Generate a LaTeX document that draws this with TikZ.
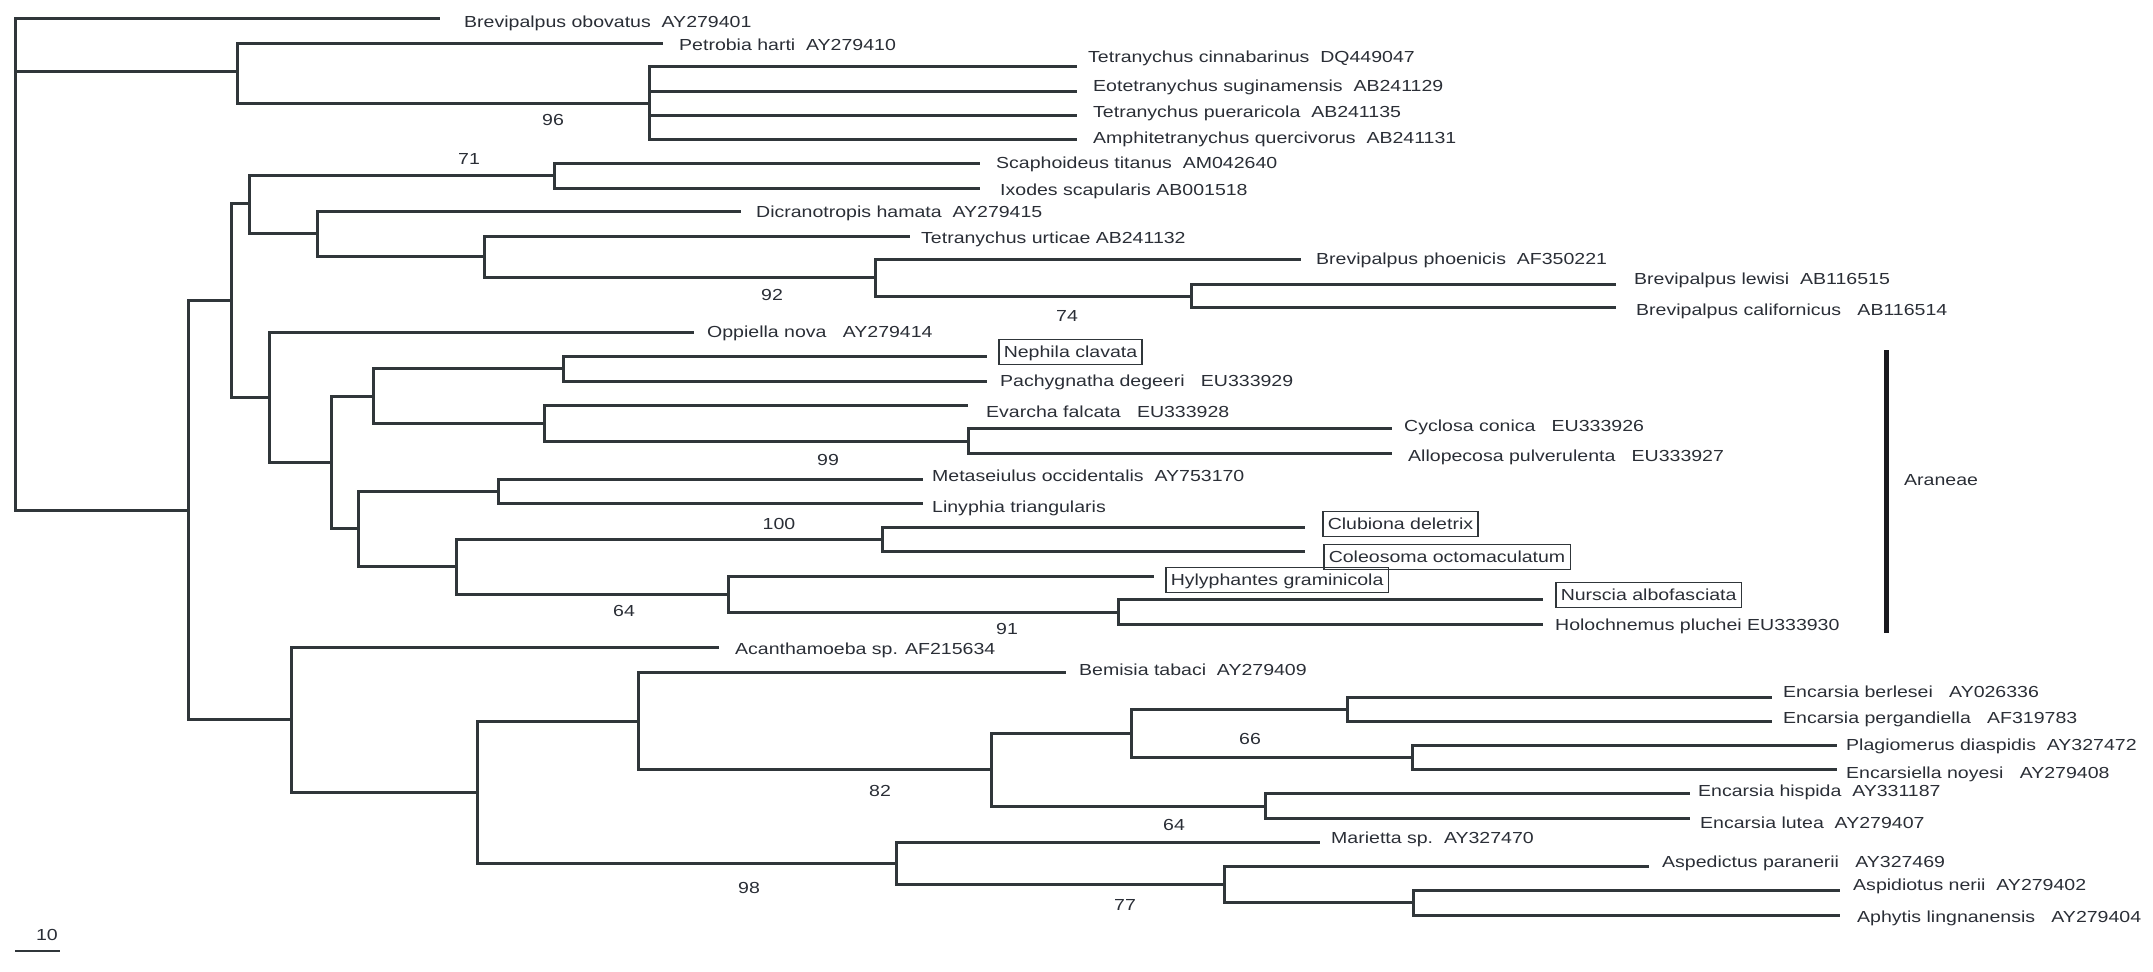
\documentclass[tikz,border=0pt]{standalone}
\usepackage{fontspec}
\setmainfont[FakeStretch=1.22]{Liberation Sans}
\definecolor{brc}{RGB}{48,54,58}
\definecolor{barc}{RGB}{25,25,30}
\definecolor{txc}{RGB}{42,46,54}
\newcommand\lf[6]{\coordinate (#1) at (#2,#3); \node[lab] (#1-t) at (#4,#5) {#6};}
\newcommand\lfb[6]{\coordinate (#1) at (#2,#3); \node[lab,boxed] (#1-t) at (#4,#5) {#6};}
\begin{document}
\begin{tikzpicture}[x=1pt,y=-1pt,
  br/.style={draw=brc,line width=3pt},
  lab/.style={anchor=west,inner xsep=0pt,inner ysep=0pt,text height=11.5pt,text depth=0pt,text=txc,font=\fontsize{16}{18}\selectfont},
  boxed/.style={draw=brc,line width=1.5pt,inner xsep=5pt,inner ysep=6.75pt},
  sup/.style={anchor=center,inner sep=0pt,text height=11.5pt,text depth=0pt,text=txc,font=\fontsize{16}{18}\selectfont}]
\useasboundingbox (0,0) rectangle (2153,972);
% internal nodes
\coordinate (root) at (15,71);
\coordinate (nPet) at (237,71);
\coordinate (nTet) at (649,103);
\coordinate (G) at (188,510);
\coordinate (H) at (231,300);
\coordinate (A) at (249,203);
\coordinate (B) at (554,175);
\coordinate (C) at (317,233);
\coordinate (D) at (484,256);
\coordinate (E) at (875,277);
\coordinate (F) at (1191,296);
\coordinate (I) at (269,397);
\coordinate (J) at (331,462);
\coordinate (K) at (373,396);
\coordinate (L) at (563,368);
\coordinate (M) at (544,423);
\coordinate (N) at (968,441);
\coordinate (O) at (358,528);
\coordinate (P) at (498,491);
\coordinate (Q) at (456,566);
\coordinate (R) at (882,539);
\coordinate (S) at (728,594);
\coordinate (T) at (1118,612);
\coordinate (U) at (291,719);
\coordinate (V) at (477,792);
\coordinate (W) at (638,721);
\coordinate (X) at (991,769);
\coordinate (Y) at (1131,733);
\coordinate (Z) at (1347,709);
\coordinate (AA) at (1412,757);
\coordinate (AB) at (1265,806);
\coordinate (AC) at (896,863);
\coordinate (AD) at (1224,884);
\coordinate (AE) at (1413,902);
% leaves
\lf{bobo}{440}{18}{464}{22}{Brevipalpus obovatus\ \ AY279401}
\lf{phar}{663}{43}{679}{45}{Petrobia harti\ \ AY279410}
\lf{tcin}{1077}{66}{1088}{57}{Tetranychus cinnabarinus\ \ DQ449047}
\lf{esug}{1077}{91}{1093}{86}{Eotetranychus suginamensis\ \ AB241129}
\lf{tpue}{1077}{115}{1093}{112}{Tetranychus pueraricola\ \ AB241135}
\lf{aque}{1077}{139}{1093}{138}{Amphitetranychus quercivorus\ \ AB241131}
\lf{stit}{980}{163}{996}{163}{Scaphoideus titanus\ \ AM042640}
\lf{isca}{980}{188}{1000}{190}{Ixodes scapularis AB001518}
\lf{dham}{741}{211}{756}{212}{Dicranotropis hamata\ \ AY279415}
\lf{turt}{910}{236}{921}{238}{Tetranychus urticae AB241132}
\lf{bpho}{1301}{259}{1316}{259}{Brevipalpus phoenicis\ \ AF350221}
\lf{blew}{1616}{284}{1634}{279}{Brevipalpus lewisi\ \ AB116515}
\lf{bcal}{1616}{307}{1636}{310}{Brevipalpus californicus\ \ \ AB116514}
\lf{onov}{694}{332}{707}{332}{Oppiella nova\ \ \ AY279414}
\lfb{ncla}{987}{356}{998}{352}{Nephila clavata}
\lf{pdeg}{987}{381}{1000}{381}{Pachygnatha degeeri\ \ \ EU333929}
\lf{efal}{968}{405}{986}{412}{Evarcha falcata\ \ \ EU333928}
\lf{ccon}{1392}{428}{1404}{426}{Cyclosa conica\ \ \ EU333926}
\lf{apul}{1392}{453}{1408}{456}{Allopecosa pulverulenta\ \ \ EU333927}
\lf{mocc}{923}{479}{932}{476}{Metaseiulus occidentalis\ \ AY753170}
\lf{ltri}{923}{503}{932}{507}{Linyphia triangularis}
\lfb{cdel}{1305}{527}{1322}{524}{Clubiona deletrix}
\lfb{coct}{1305}{551}{1323}{557}{Coleosoma octomaculatum}
\lfb{hgra}{1154}{576}{1165}{580}{Hylyphantes graminicola}
\lfb{nalb}{1543}{599}{1555}{595}{Nurscia albofasciata}
\lf{hplu}{1543}{624}{1555}{625}{Holochnemus pluchei EU333930}
\lf{acan}{719}{647}{735}{649}{Acanthamoeba sp. AF215634}
\lf{btab}{1066}{672}{1079}{670}{Bemisia tabaci\ \ AY279409}
\lf{eber}{1772}{697}{1783}{692}{Encarsia berlesei\ \ \ AY026336}
\lf{eper}{1772}{721}{1783}{718}{Encarsia pergandiella\ \ \ AF319783}
\lf{pdia}{1837}{745}{1846}{745}{Plagiomerus diaspidis\ \ AY327472}
\lf{enoy}{1837}{769}{1846}{773}{Encarsiella noyesi\ \ \ AY279408}
\lf{ehis}{1690}{793}{1698}{791}{Encarsia hispida\ \ AY331187}
\lf{elut}{1690}{818}{1700}{823}{Encarsia lutea\ \ AY279407}
\lf{mari}{1320}{842}{1331}{838}{Marietta sp.\ \ AY327470}
\lf{apar}{1649}{866}{1662}{862}{Aspedictus paranerii\ \ \ AY327469}
\lf{aner}{1840}{890}{1853}{885}{Aspidiotus nerii\ \ AY279402}
\lf{alin}{1840}{915}{1857}{917}{Aphytis lingnanensis\ \ \ AY279404}
% branches
\draw[br] (root) |- (bobo);
\draw[br] (root) |- (nPet);
\draw[br] (root) |- (G);
\draw[br] (nPet) |- (phar);
\draw[br] (nPet) |- (nTet);
\foreach \c in {tcin,esug,tpue,aque} \draw[br] (nTet) |- (\c);
\draw[br] (G) |- (H);
\draw[br] (G) |- (U);
\draw[br] (H) |- (A);
\draw[br] (H) |- (I);
\draw[br] (A) |- (B);
\draw[br] (A) |- (C);
\draw[br] (B) |- (stit);
\draw[br] (B) |- (isca);
\draw[br] (C) |- (dham);
\draw[br] (C) |- (D);
\draw[br] (D) |- (turt);
\draw[br] (D) |- (E);
\draw[br] (E) |- (bpho);
\draw[br] (E) |- (F);
\draw[br] (F) |- (blew);
\draw[br] (F) |- (bcal);
\draw[br] (I) |- (onov);
\draw[br] (I) |- (J);
\draw[br] (J) |- (K);
\draw[br] (J) |- (O);
\draw[br] (K) |- (L);
\draw[br] (K) |- (M);
\draw[br] (L) |- (ncla);
\draw[br] (L) |- (pdeg);
\draw[br] (M) |- (efal);
\draw[br] (M) |- (N);
\draw[br] (N) |- (ccon);
\draw[br] (N) |- (apul);
\draw[br] (O) |- (P);
\draw[br] (O) |- (Q);
\draw[br] (P) |- (mocc);
\draw[br] (P) |- (ltri);
\draw[br] (Q) |- (R);
\draw[br] (Q) |- (S);
\draw[br] (R) |- (cdel);
\draw[br] (R) |- (coct);
\draw[br] (S) |- (hgra);
\draw[br] (S) |- (T);
\draw[br] (T) |- (nalb);
\draw[br] (T) |- (hplu);
\draw[br] (U) |- (acan);
\draw[br] (U) |- (V);
\draw[br] (V) |- (W);
\draw[br] (V) |- (AC);
\draw[br] (W) |- (btab);
\draw[br] (W) |- (X);
\draw[br] (X) |- (Y);
\draw[br] (X) |- (AB);
\draw[br] (Y) |- (Z);
\draw[br] (Y) |- (AA);
\draw[br] (Z) |- (eber);
\draw[br] (Z) |- (eper);
\draw[br] (AA) |- (pdia);
\draw[br] (AA) |- (enoy);
\draw[br] (AB) |- (ehis);
\draw[br] (AB) |- (elut);
\draw[br] (AC) |- (mari);
\draw[br] (AC) |- (AD);
\draw[br] (AD) |- (apar);
\draw[br] (AD) |- (AE);
\draw[br] (AE) |- (aner);
\draw[br] (AE) |- (alin);
% support values
\node[sup] (s96) at (553,120) {96};
\node[sup] (s71) at (469,159) {71};
\node[sup] (s92) at (772,295) {92};
\node[sup] (s74) at (1067,316) {74};
\node[sup] (s99) at (828,460) {99};
\node[sup] (s100) at (779,524) {100};
\node[sup] (s64a) at (624,611) {64};
\node[sup] (s91) at (1007,629) {91};
\node[sup] (s82) at (880,791) {82};
\node[sup] (s66) at (1250,739) {66};
\node[sup] (s64b) at (1174,825) {64};
\node[sup] (s98) at (749,888) {98};
\node[sup] (s77) at (1125,905) {77};
% Araneae bracket
\coordinate (ar1) at (1886,350);
\coordinate (ar2) at (1886,633);
\draw[draw=barc,line width=5pt] (ar1) -- (ar2);
\node[lab] (aran) at (1904,480) {Araneae};
% scale bar
\coordinate (sb1) at (15,951);
\coordinate (sb2) at (60,951);
\draw[draw=brc,line width=2pt] (sb1) -- (sb2);
\node[sup] (sbl) at (47,935) {10};
\end{tikzpicture}
\end{document}
